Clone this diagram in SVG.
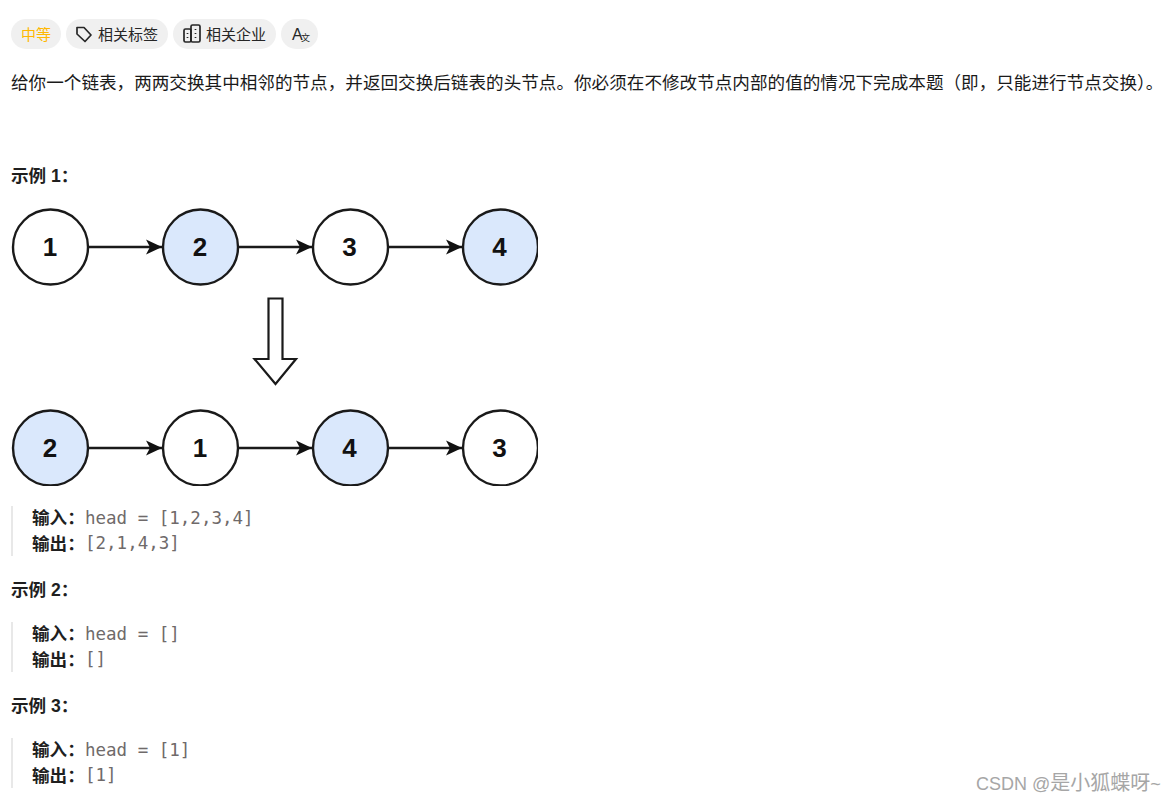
<svg xmlns="http://www.w3.org/2000/svg" width="1174" height="803" viewBox="0 0 1174 803">
<defs>
<marker id="ah" markerUnits="userSpaceOnUse" markerWidth="17" markerHeight="16" refX="16" refY="8" orient="auto"><path d="M0 0.500L16 8L0 15.500L4 8Z" fill="#111"/></marker>
</defs>
<style>
text{font-family:"Liberation Sans","Noto Sans CJK SC",sans-serif;fill:#262626}
.pill{fill:#f0f0f0}
.t{font-size:15px}
.p{font-size:17.6px;fill:#1a1a1a}
.h{font-size:17.6px;font-weight:700;fill:#1f1f1f}
.b{font-size:17.6px;font-weight:700;fill:#1f1f1f}
.m{font-family:"DejaVu Sans Mono","Noto Sans CJK SC",monospace;font-size:17.5px;fill:#6f6a6a}
.c{fill:#fff;stroke:#1a1a1a;stroke-width:2.4}
.f{fill:#dae8fc}
.n{font-size:26px;font-weight:700;text-anchor:middle;fill:#111}
.e{stroke:#1a1a1a;stroke-width:2.4;fill:none;marker-end:url(#ah)}
.q{fill:#e8e8e8}
</style>
<g id="tags">
<rect class="pill" x="11" y="19" width="50" height="30" rx="15"/>
<text x="21" y="40" class="t" style="fill:#ffb800">中等</text>
<rect class="pill" x="66" y="19" width="102" height="30" rx="15"/>
<path d="M77 27.500L84 27.500L91 35L85 41.500L77 34Z" fill="none" stroke="#262626" stroke-width="1.700" stroke-linejoin="round"/>
<text x="98" y="40" class="t">相关标签</text>
<rect class="pill" x="173" y="19" width="103" height="30" rx="15"/>
<rect x="184" y="29" width="7" height="13" rx="1.500" fill="none" stroke="#262626" stroke-width="1.700"/>
<rect x="191" y="25" width="9" height="17" rx="1.500" fill="none" stroke="#262626" stroke-width="1.700"/>
<path d="M187.500 33v1M187.500 37v1M195.500 29v1M195.500 33v1M195.500 37v1" stroke="#262626" stroke-width="1.700"/>
<text x="206" y="40" class="t">相关企业</text>
<rect class="pill" x="281" y="19" width="37" height="30" rx="15"/>
<text x="292" y="40" font-size="16">A</text><text x="301" y="41" font-size="9" style="fill:#262626">文</text>
</g>
<text id="desc" x="11" y="89" class="p">给你一个链表，两两交换其中相邻的节点，并返回交换后链表的头节点。你必须在不修改节点内部的值的情况下完成本题（即，只能进行节点交换）。</text>
<text id="ex1" x="11" y="182" class="h">示例 1：</text>
<g id="connectors">
<path class="e" d="M89 247H162"/><path class="e" d="M239 247H312"/><path class="e" d="M388 247H462"/>
<path class="e" d="M89 448H162"/><path class="e" d="M239 448H312"/><path class="e" d="M388 448H462"/>
</g>
<g id="n1"><circle class="c" cx="50.500" cy="247" r="37.500"/><text class="n" x="50" y="256">1</text></g>
<g id="n2"><circle class="c f" cx="200.500" cy="247" r="37.500"/><text class="n" x="200" y="256">2</text></g>
<g id="n3"><circle class="c" cx="350.500" cy="247" r="37.500"/><text class="n" x="349.500" y="256">3</text></g>
<g id="n4"><circle class="c f" cx="500.500" cy="247" r="37.500"/><text class="n" x="499.500" y="256">4</text></g>
<g id="down"><path d="M268.500 298.500H282.500V359H296L275.500 384L254.500 359H268.500Z" fill="#fff" stroke="#1a1a1a" stroke-width="2.200"/></g>
<g id="m1"><circle class="c f" cx="50.500" cy="448" r="37.500"/><text class="n" x="50" y="457">2</text></g>
<g id="m2"><circle class="c" cx="200.500" cy="448" r="37.500"/><text class="n" x="200" y="457">1</text></g>
<g id="m3"><circle class="c f" cx="350.500" cy="448" r="37.500"/><text class="n" x="349.500" y="457">4</text></g>
<g id="m4"><circle class="c" cx="500.500" cy="448" r="37.500"/><text class="n" x="499.500" y="457">3</text></g>
<rect x="0" y="486" width="600" height="4" fill="#fff"/>
<rect x="538" y="205" width="4" height="285" fill="#fff"/>
<g id="block1"><rect class="q" x="11" y="506" width="2" height="50"/>
<text x="32" y="524" class="b">输入：</text><text x="85" y="524" class="m">head = [1,2,3,4]</text>
<text x="32" y="550" class="b">输出：</text><text x="85" y="549" class="m">[2,1,4,3]</text></g>
<text id="ex2" x="11" y="596" class="h">示例 2：</text>
<g id="block2"><rect class="q" x="11" y="622" width="2" height="50"/>
<text x="32" y="640" class="b">输入：</text><text x="85" y="640" class="m">head = []</text>
<text x="32" y="666" class="b">输出：</text><text x="85" y="665" class="m">[]</text></g>
<text id="ex3" x="11" y="712" class="h">示例 3：</text>
<g id="block3"><rect class="q" x="11" y="738" width="2" height="50"/>
<text x="32" y="756" class="b">输入：</text><text x="85" y="756" class="m">head = [1]</text>
<text x="32" y="782" class="b">输出：</text><text x="85" y="781" class="m">[1]</text></g>
<text id="wm" x="976" y="790" font-size="18" style="fill:#a6a6a6">CSDN @<tspan font-size="20">是小狐蝶呀</tspan>~</text>
</svg>
